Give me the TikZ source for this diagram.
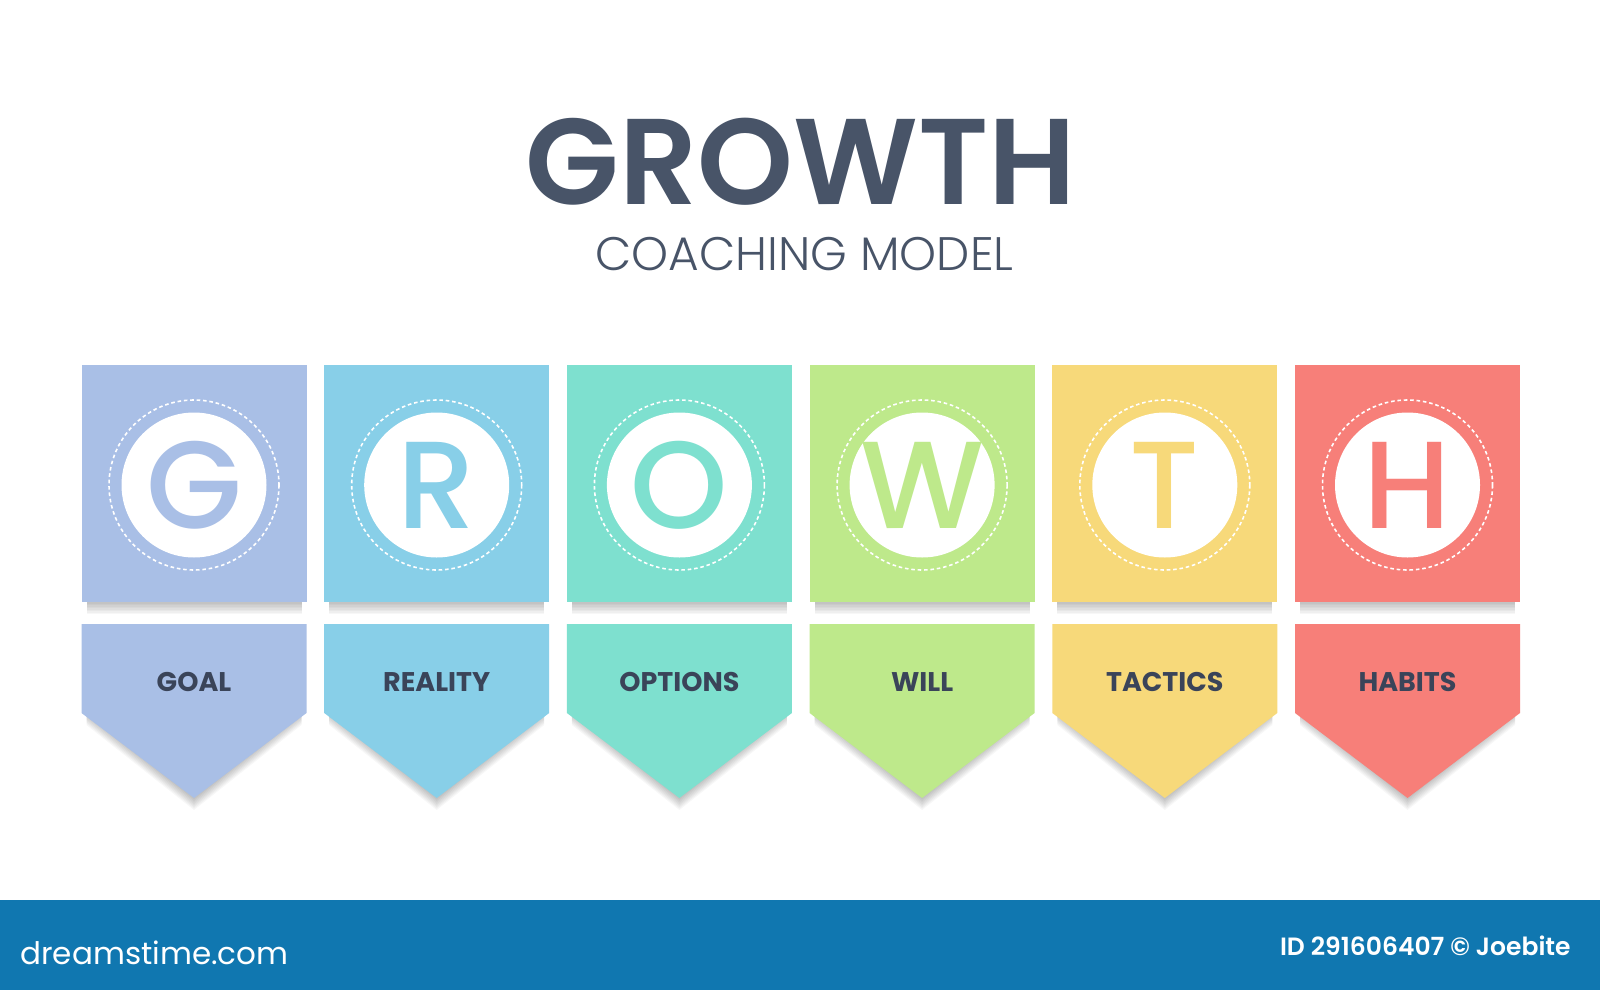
\documentclass[tikz,border=0pt]{standalone}
\usepackage{fontspec}
\setmainfont{Poppins}
\newfontfamily\thinfont[UprightFont=* Light]{Poppins}
\newfontfamily\semifont[UprightFont=* SemiBold]{Poppins}
\newfontfamily\medfont[UprightFont=* Medium]{Poppins}

\definecolor{titleslate}{HTML}{485468}
\definecolor{labelink}{HTML}{3A4459}
\definecolor{barblue}{HTML}{1077B0}
\definecolor{cG}{HTML}{A9BFE6}
\definecolor{cR}{HTML}{88CFE8}
\definecolor{cO}{HTML}{7EE0CF}
\definecolor{cW}{HTML}{BEE98B}
\definecolor{cT}{HTML}{F7D97A}
\definecolor{cH}{HTML}{F77F79}

\tikzset{
  card/.style={fill=#1, draw=none},
  haze/.style={fill=black, opacity=0.032},
  disc/.style={circle, fill=white, minimum size=72.5pt, inner sep=0pt},
  initial/.style={inner sep=0pt, font=\medfont\fontsize{62}{62}\selectfont},
  ring/.style={white, line width=0.8pt, dash pattern=on 1.8pt off 1.4pt},
  tag/.style={text=labelink, font=\bfseries\fontsize{13.5}{13.5}\selectfont},
}

\begin{document}
\begin{tikzpicture}[x=0.5pt,y=-0.5pt]
  \useasboundingbox (0,0) rectangle (1600,990);
  \fill[white] (0,0) rectangle (1600,990);

  % Title
  \node[inner sep=0pt, text=titleslate, font=\semifont\fontsize{61}{61}\selectfont] (title) at (801,162) {GROWTH};
  \node[inner sep=0pt, text=titleslate, font=\thinfont\fontsize{23.5}{23.5}\selectfont] (subtitle) at (804.5,254) {COACHING MODEL};

  % Letter cards and arrow tags
  \foreach \ltr/\word/\col [count=\i from 0] in {G/GOAL/cG, R/REALITY/cR, O/OPTIONS/cO,
      W/WILL/cW, T/TACTICS/cT, H/HABITS/cH}{
    \pgfmathsetmacro{\xl}{81.5+242.7*\i}
    % soft shadows
    \foreach \k in {1,...,8}{
      \fill[haze] (\xl+5,365+1.5*\k) rectangle ++(215,237);
      \fill[haze] (\xl+5,624+1.5*\k) -- ++(215,0) -- ++(0,89) -- ++(-107.5,85)
        -- ++(-107.5,-85) -- cycle;
    }
    \fill[card=\col] (\xl,365) rectangle ++(225,237);
    \fill[card=\col] (\xl,624) -- ++(225,0) -- ++(0,89) -- ++(-112.5,85)
      -- ++(-112.5,-85) -- cycle;
    \node[disc] (disc\i) at (\xl+112.5,485) {};
    \node[initial, text=\col] (letter\i) at (disc\i.center) {\ltr};
    \draw[ring] (disc\i.center) circle [radius=85];
    \node[tag] (tag\i) at (\xl+112.5,682) {\word};
  }

  % Bottom bar
  \fill[barblue] (0,900) rectangle (1600,990);
  \node[anchor=west, inner sep=0pt, text=white, font=\fontsize{15.5}{15.5}\selectfont] (site) at (20,953) {dreamstime.com};
  \node[anchor=east, inner sep=0pt, text=white, font=\semifont\fontsize{12.5}{12.5}\selectfont] (credit) at (1571,946) {ID 291606407 © Joebite};
\end{tikzpicture}
\end{document}
